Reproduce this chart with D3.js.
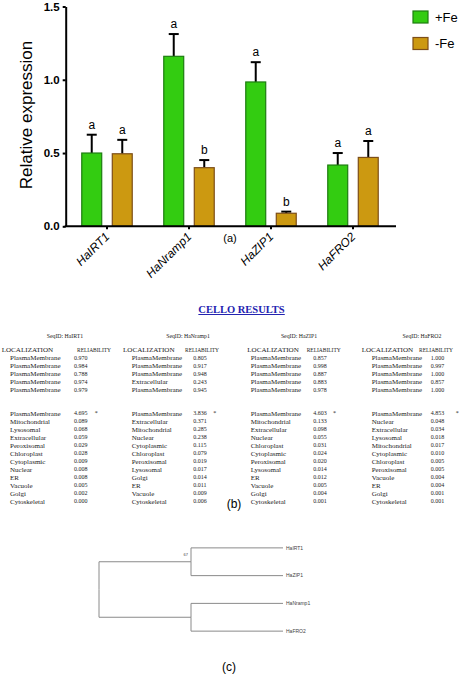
<!DOCTYPE html>
<meta charset="utf-8">
<style>
body { margin: 0; background: #fff; }
svg { display: block; }
.axis path, .axis line { stroke: #000; stroke-width: 2px; }
.axis text { font-family: "Liberation Sans", Arial, sans-serif; fill: #000; }
.tbl { font-family: "Liberation Serif", "Times New Roman", serif; font-size: 7px; fill: #222; }
.tbl .val { font-size: 6px; }
.tbl .seq { font-size: 5.8px; }
</style>
<svg width="474" height="675"></svg>
<script src="https://d3js.org/d3.v7.min.js"></script>
<script>

// (a) qPCR data
var genes = ["HaIRT1", "HaNramp1", "HaZIP1", "HaFRO2"];
var series = ["+Fe", "-Fe"];
var plusFe = [0.50, 1.16, 0.985, 0.418];
var plusFeErr = [0.125, 0.152, 0.135, 0.082];
var minusFe = [0.495, 0.40, 0.089, 0.47];
var minusFeErr = [0.095, 0.052, 0.011, 0.112];
var plusFeLetters = ["a", "a", "a", "a"];
var minusFeLetters = ["a", "b", "b", "a"];
var yTicks = [0, 0.5, 1.0, 1.5];

// (b) CELLO tables
var seqIds = ["HaIRT1", "HaNramp1", "HaZIP1", "HaFRO2"];
var svmLoc = [
  ["PlasmaMembrane", "PlasmaMembrane", "PlasmaMembrane", "PlasmaMembrane", "PlasmaMembrane"],
  ["PlasmaMembrane", "PlasmaMembrane", "PlasmaMembrane", "Extracellular", "PlasmaMembrane"],
  ["PlasmaMembrane", "PlasmaMembrane", "PlasmaMembrane", "PlasmaMembrane", "PlasmaMembrane"],
  ["PlasmaMembrane", "PlasmaMembrane", "PlasmaMembrane", "PlasmaMembrane", "PlasmaMembrane"]
];
var svmRel = [
  ["0.970", "0.984", "0.788", "0.974", "0.979"],
  ["0.805", "0.917", "0.948", "0.243", "0.945"],
  ["0.857", "0.998", "0.887", "0.883", "0.978"],
  ["1.000", "0.997", "1.000", "0.857", "1.000"]
];
var finalLoc = [
  ["PlasmaMembrane", "Mitochondrial", "Lysosomal", "Extracellular", "Peroxisomal", "Chloroplast", "Cytoplasmic", "Nuclear", "ER", "Vacuole", "Golgi", "Cytoskeletal"],
  ["PlasmaMembrane", "Extracellular", "Mitochondrial", "Nuclear", "Cytoplasmic", "Chloroplast", "Peroxisomal", "Lysosomal", "Golgi", "ER", "Vacuole", "Cytoskeletal"],
  ["PlasmaMembrane", "Mitochondrial", "Extracellular", "Nuclear", "Chloroplast", "Cytoplasmic", "Peroxisomal", "Lysosomal", "ER", "Vacuole", "Golgi", "Cytoskeletal"],
  ["PlasmaMembrane", "Nuclear", "Extracellular", "Lysosomal", "Mitochondrial", "Cytoplasmic", "Chloroplast", "Peroxisomal", "Vacuole", "ER", "Golgi", "Cytoskeletal"]
];
var finalRel = [
  ["4.695", "0.089", "0.068", "0.059", "0.029", "0.028", "0.009", "0.008", "0.008", "0.005", "0.002", "0.000"],
  ["3.836", "0.371", "0.285", "0.238", "0.115", "0.079", "0.019", "0.017", "0.014", "0.011", "0.009", "0.006"],
  ["4.603", "0.133", "0.098", "0.055", "0.031", "0.024", "0.020", "0.014", "0.012", "0.005", "0.004", "0.001"],
  ["4.853", "0.048", "0.034", "0.018", "0.017", "0.010", "0.005", "0.005", "0.004", "0.004", "0.001", "0.001"]
];

// (c) tree
var treeIds = ["root", "c1", "c2", "HaIRT1", "HaZIP1", "HaNramp1", "HaFRO2"];
var treeParents = ["", "root", "root", "c1", "c1", "c2", "c2"];
var treeSupport = ["", "67", "", "", "", "", ""];

var svg = d3.select("svg");

// ---------- (a) bar chart ----------
var green = "#33cc11", greenStroke = "#1d7d10",
    gold = "#cc9911", goldStroke = "#7d4e18";

var x = d3.scaleBand().domain(genes).range([66, 394]);
var xs = d3.scaleBand().domain(series).range([0, x.bandwidth()]).paddingInner(0.314).paddingOuter(0.5);
var y = d3.scaleLinear().domain([0, 1.5]).range([226.3, 6.5]);

var rows = genes.map(function(g, i) {
  return [
    {gene: g, s: "+Fe", v: plusFe[i], e: plusFeErr[i], l: plusFeLetters[i], fill: green, stroke: greenStroke},
    {gene: g, s: "-Fe", v: minusFe[i], e: minusFeErr[i], l: minusFeLetters[i], fill: gold, stroke: goldStroke}
  ];
});
var bars = d3.merge(rows);

var bar = svg.append("g").selectAll("g")
  .data(bars)
  .enter().append("g")
    .attr("transform", function(d) { return "translate(" + (x(d.gene) + xs(d.s)) + ",0)"; });

bar.append("line")
    .attr("x1", xs.bandwidth() / 2).attr("x2", xs.bandwidth() / 2)
    .attr("y1", function(d) { return y(d.v); })
    .attr("y2", function(d) { return y(d.v + d.e); })
    .attr("stroke", "#000").attr("stroke-width", 2);

bar.append("line")
    .attr("x1", xs.bandwidth() / 2 - 5).attr("x2", xs.bandwidth() / 2 + 5)
    .attr("y1", function(d) { return y(d.v + d.e); })
    .attr("y2", function(d) { return y(d.v + d.e); })
    .attr("stroke", "#000").attr("stroke-width", 2);

bar.append("rect")
    .attr("x", 0.5)
    .attr("width", xs.bandwidth() - 1)
    .attr("y", function(d) { return y(d.v); })
    .attr("height", function(d) { return y(0) - y(d.v); })
    .attr("fill", function(d) { return d.fill; })
    .attr("stroke", function(d) { return d.stroke; })
    .attr("stroke-width", 1.2);

bar.append("text")
    .attr("x", xs.bandwidth() / 2)
    .attr("y", function(d) { return y(d.v + d.e) - 6; })
    .attr("text-anchor", "middle")
    .style("font-family", "Liberation Sans, Arial, sans-serif")
    .style("font-size", "12px")
    .text(function(d) { return d.l; });

svg.append("g")
    .attr("class", "axis")
    .attr("transform", "translate(65.7,0)")
    .call(d3.axisLeft(y).tickValues(yTicks).tickFormat(d3.format(".1f")).tickSize(3).tickSizeOuter(0))
    .selectAll("text")
      .style("font-size", "11.5px").style("font-weight", "bold");

var xAxis = svg.append("g")
    .attr("class", "axis")
    .attr("transform", "translate(0,226.3)")
    .call(d3.axisBottom(x).tickSize(3).tickSizeOuter(0));
xAxis.select(".domain").attr("d", "M64.7,0H396");
xAxis.selectAll("text")
    .attr("text-anchor", "end")
    .attr("x", 0).attr("y", 0).attr("dy", "0.72em")
    .attr("transform", "translate(-3,5) rotate(-45)")
    .style("font-size", "12px").style("font-style", "italic");

svg.append("text")
    .attr("transform", "translate(32,115) rotate(-90)")
    .attr("text-anchor", "middle")
    .style("font-family", "Liberation Sans, Arial, sans-serif")
    .style("font-size", "17px")
    .text("Relative expression");

svg.append("text")
    .attr("x", 230).attr("y", 242)
    .attr("text-anchor", "middle")
    .style("font-family", "Liberation Sans, Arial, sans-serif")
    .style("font-size", "11px")
    .text("(a)");

var legend = svg.append("g").selectAll("g")
  .data(series)
  .enter().append("g")
    .attr("transform", function(d, i) { return "translate(413," + (11 + i * 26.5) + ")"; });
legend.append("rect")
    .attr("width", 15).attr("height", 12)
    .attr("fill", function(d, i) { return i ? gold : green; })
    .attr("stroke", function(d, i) { return i ? goldStroke : greenStroke; })
    .attr("stroke-width", 1.2);
legend.append("text")
    .attr("x", 22).attr("y", 6).attr("dy", "0.35em")
    .style("font-family", "Liberation Sans, Arial, sans-serif")
    .style("font-size", "13px")
    .text(function(d) { return d; });

// ---------- (b) CELLO tables ----------
var title = svg.append("text")
    .attr("x", 241.5).attr("y", 313)
    .attr("text-anchor", "middle")
    .style("font-family", "Liberation Serif, Times New Roman, serif")
    .style("font-size", "10.5px").style("font-weight", "bold")
    .attr("fill", "#2323b0")
    .text("CELLO RESULTS");
var tb = title.node().getBBox();
svg.append("line")
    .attr("x1", tb.x).attr("x2", tb.x + tb.width)
    .attr("y1", 314.5).attr("y2", 314.5)
    .attr("stroke", "#2323b0").attr("stroke-width", 1);

var seqX = [65, 188, 299, 422],
    headLocX = [1.7, 123, 247.3, 361.7],
    headRelX = [77, 185, 306.7, 419],
    nameX = [10, 131.7, 250.7, 371.7],
    valX = [74, 193.3, 313.3, 430.7],
    starX = [94.7, 213.3, 333, 455.7];

var table = svg.append("g").attr("class", "tbl").selectAll("g")
  .data(seqIds)
  .enter().append("g");

table.append("text")
    .attr("class", "seq")
    .attr("x", function(d, i) { return seqX[i]; })
    .attr("y", 335.5).attr("dy", "0.35em")
    .attr("text-anchor", "middle")
    .text(function(d) { return "SeqID: " + d; });

table.append("text")
    .attr("x", function(d, i) { return headLocX[i]; })
    .attr("y", 349.3).attr("dy", "0.35em")
    .attr("textLength", 51.5).attr("lengthAdjust", "spacingAndGlyphs")
    .text("LOCALIZATION");
table.append("text")
    .attr("x", function(d, i) { return headRelX[i]; })
    .attr("y", 349.3).attr("dy", "0.35em")
    .attr("textLength", 34).attr("lengthAdjust", "spacingAndGlyphs")
    .text("RELIABILITY");

table.each(function(d, i) {
  var g = d3.select(this);
  svmLoc[i].forEach(function(loc, j) {
    g.append("text").attr("x", nameX[i]).attr("y", 357.7 + j * 8.05).attr("dy", "0.35em").text(loc);
    g.append("text").attr("class", "val").attr("x", valX[i]).attr("y", 357.7 + j * 8.05).attr("dy", "0.35em").text(svmRel[i][j]);
  });
  finalLoc[i].forEach(function(loc, j) {
    g.append("text").attr("x", nameX[i]).attr("y", 413.3 + j * 8).attr("dy", "0.35em").text(loc);
    g.append("text").attr("class", "val").attr("x", valX[i]).attr("y", 413.3 + j * 8).attr("dy", "0.35em").text(finalRel[i][j]);
  });
  g.append("text").attr("class", "val").attr("x", starX[i]).attr("y", 413.3).attr("dy", "0.35em").text("*");
});

svg.append("text")
    .attr("x", 234).attr("y", 504).attr("dy", "0.35em")
    .attr("text-anchor", "middle")
    .style("font-family", "Liberation Sans, Arial, sans-serif")
    .style("font-size", "12px")
    .text("(b)");

// ---------- (c) tree ----------
var root = d3.stratify()
    .id(function(d) { return d.id; })
    .parentId(function(d) { return d.parent || null; })
  (treeIds.map(function(id, i) { return {id: id, parent: treeParents[i], support: treeSupport[i]}; }));

d3.cluster().size([111, 184]).separation(function() { return 1; })(root);

var tree = svg.append("g").attr("transform", "translate(99,534)");

tree.selectAll("path")
  .data(root.links())
  .enter().append("path")
    .attr("fill", "none")
    .attr("stroke", "#8a8a8a")
    .attr("stroke-width", 1)
    .attr("d", function(d) {
      return "M" + d.source.y + "," + d.source.x + "V" + d.target.x + "H" + d.target.y;
    });

tree.selectAll(".leaf")
  .data(root.leaves())
  .enter().append("text")
    .attr("class", "leaf")
    .attr("x", function(d) { return d.y + 3; })
    .attr("y", function(d) { return d.x; })
    .attr("dy", "0.35em")
    .style("font-family", "Liberation Sans, Arial, sans-serif")
    .style("font-size", "5px")
    .attr("fill", "#444")
    .text(function(d) { return d.id; });

tree.selectAll(".support")
  .data(root.descendants().filter(function(d) { return d.data.support; }))
  .enter().append("text")
    .attr("class", "support")
    .attr("x", function(d) { return d.y - 3; })
    .attr("y", function(d) { return d.x - 6; })
    .attr("text-anchor", "end")
    .style("font-family", "Liberation Sans, Arial, sans-serif")
    .style("font-size", "4px")
    .attr("fill", "#444")
    .text(function(d) { return d.data.support; });

svg.append("text")
    .attr("x", 229).attr("y", 667).attr("dy", "0.35em")
    .attr("text-anchor", "middle")
    .style("font-family", "Liberation Sans, Arial, sans-serif")
    .style("font-size", "12px")
    .text("(c)");

</script>
